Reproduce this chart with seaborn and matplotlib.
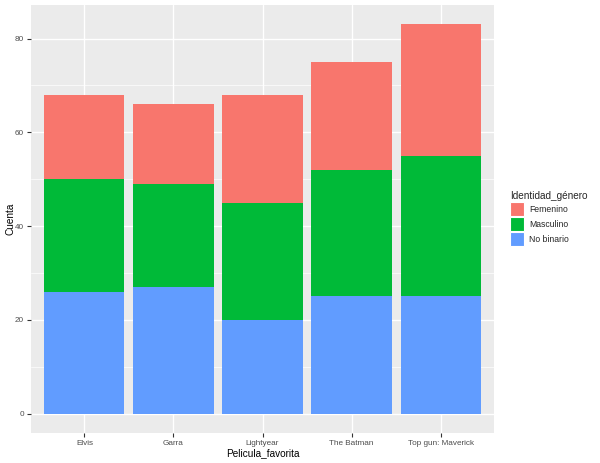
import pandas as pd
import numpy as np
import matplotlib
matplotlib.use("Agg")
import matplotlib.pyplot as plt
import seaborn as sns
from matplotlib.patches import Patch

peliculas = ["Elvis", "Garra", "Lightyear", "The Batman", "Top gun: Maverick"]
no_binario = [26, 27, 20, 25, 25]
masculino = [24, 22, 25, 27, 30]
femenino = [18, 17, 23, 23, 28]
generos = ["Femenino", "Masculino", "No binario"]
colores = {"Femenino": "#F8766D", "Masculino": "#00BA38", "No binario": "#619CFF"}

df = pd.DataFrame({"Pelicula_favorita": peliculas,
                   "No binario": no_binario,
                   "Masculino": masculino,
                   "Femenino": femenino})

sns.set_theme(style="darkgrid", rc={"axes.facecolor": "#EBEBEB",
                                    "grid.color": "white"})
plt.rcParams["font.family"] = ["Liberation Sans", "DejaVu Sans"]

fig = plt.figure(figsize=(6, 4.63), dpi=100)
ax = fig.add_axes([31 / 600, 30 / 463, 463 / 600, 428 / 463])

# stack from bottom: No binario, Masculino, Femenino
base = np.zeros(len(peliculas))
for g in ["No binario", "Masculino", "Femenino"]:
    sns.barplot(data=df, x="Pelicula_favorita", y=g, color=colores[g],
                bottom=base, width=0.9, linewidth=0, saturation=1, ax=ax)
    base = base + df[g].values

ax.set_xlim(-0.6, 4.6)
ax.set_ylim(-4.15, 87.15)
ax.set_yticks([0, 20, 40, 60, 80])
ax.set_yticks([10, 30, 50, 70], minor=True)
ax.grid(which="major", color="white", linewidth=1.0)
ax.grid(which="minor", axis="y", color="white", linewidth=0.5)
ax.set_axisbelow(True)
for s in ax.spines.values():
    s.set_visible(False)
ax.tick_params(axis="both", which="major", length=3, width=0.8, color="#333333",
               labelsize=5.9, labelcolor="#4D4D4D", pad=2, bottom=True, left=True)
ax.tick_params(which="minor", length=0)
ax.set_xlabel("Pelicula_favorita", fontsize=7.2, color="black", labelpad=1)
ax.set_ylabel("Cuenta", fontsize=7.2, color="black")
ax.yaxis.set_label_coords(-16 / 463, 0.5)

handles = [Patch(facecolor=colores[g], edgecolor="white", linewidth=0.8, label=g)
           for g in generos]
leg = fig.legend(handles=handles, title="Identidad_género", loc="upper left",
                 bbox_to_anchor=(507 / 600, 1 - 188 / 463), frameon=False,
                 fontsize=6.2, title_fontsize=7.2, handlelength=1.63, handleheight=2.1,
                 handletextpad=0.5, labelspacing=0.12, borderaxespad=0)
leg._legend_box.align = "left"

fig.savefig("out.png", dpi=100)
